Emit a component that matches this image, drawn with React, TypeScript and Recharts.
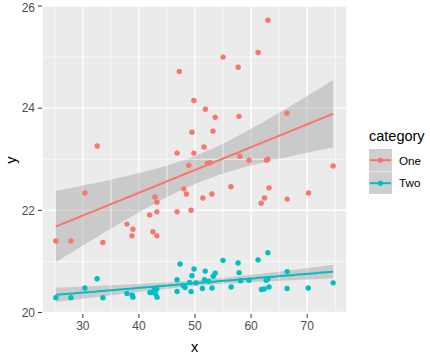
import React from "react";
import {
  ComposedChart,
  Scatter,
  Area,
  Line,
  XAxis,
  YAxis,
  CartesianGrid,
  ReferenceLine,
  Legend,
} from "recharts";

// values
const xOne = [
  25.18, 27.86, 30.36, 32.57, 33.57, 37.86, 38.75, 38.93, 41.9, 42.5, 42.86, 43.2, 43.2,
  43.2, 46.8, 46.8, 47.2, 48.0, 48.46, 48.9, 49.3, 49.46, 49.8, 49.8, 51.4, 51.6, 51.86,
  52.2, 52.7, 53.0, 53.2, 53.6, 55.0, 56.4, 57.7, 57.86, 58.0, 59.64, 61.25, 61.8, 62.4,
  62.75, 62.98, 63.0, 63.2, 66.4, 66.43, 70.25, 74.64,
];
const yOne = [
  21.4, 21.4, 22.34, 23.26, 21.37, 21.73, 21.5, 21.63, 21.91, 21.58, 22.26, 22.16, 21.97,
  21.5, 23.12, 21.97, 24.72, 22.42, 22.32, 22.88, 22.0, 23.53, 24.15, 23.12, 22.24, 23.24,
  23.98, 22.92, 22.93, 22.32, 23.55, 23.82, 25.0, 22.46, 24.8, 23.84, 23.06, 22.98, 25.09,
  22.14, 22.24, 22.98, 23.0, 25.72, 22.44, 23.9, 22.22, 22.34, 22.87,
];
const xTwo = [
  25.18, 27.86, 30.36, 32.54, 33.57, 37.86, 38.79, 38.93, 41.98, 42.27, 42.7, 42.93, 43.16,
  43.23, 46.8, 46.8, 47.34, 47.88, 48.23, 49.05, 49.3, 49.46, 49.82, 50.18, 51.32, 51.68,
  51.82, 52.45, 53.04, 53.25, 53.6, 55.0, 56.45, 57.68, 57.86, 58.11, 59.64, 61.25, 61.86,
  62.34, 62.7, 63.0, 63.0, 63.2, 66.43, 66.43, 70.2, 74.64,
];
const yTwo = [
  20.29, 20.29, 20.48, 20.66, 20.29, 20.37, 20.34, 20.3, 20.39, 20.39, 20.44, 20.37, 20.46,
  20.3, 20.64, 20.41, 20.95, 20.53, 20.49, 20.59, 20.41, 20.72, 20.85, 20.58, 20.47, 20.64,
  20.81, 20.61, 20.48, 20.71, 20.77, 21.02, 20.5, 20.97, 20.78, 20.62, 20.63, 21.03, 20.45,
  20.46, 20.63, 20.66, 21.17, 20.5, 20.8, 20.47, 20.48, 20.58,
];

const categories = ["One", "Two"];
const xTicks = [30, 40, 50, 60, 70];
const yTicks = [20, 22, 24, 26];
const xMinor = [25, 35, 45, 55, 65, 75];
const yMinor = [21, 23, 25];

const COLORS = ["#F8766D", "#00BFC4"];
const FONT = '"Liberation Sans", Arial, sans-serif';

const toPoints = (xs: number[], ys: number[]) => xs.map((x, i) => ({ x, y: ys[i] }));

// lm fit with 95% confidence band, like geom_smooth(method = "lm")
function lmBand(xs: number[], ys: number[]) {
  const n = xs.length;
  const mx = xs.reduce((a, b) => a + b, 0) / n;
  const my = ys.reduce((a, b) => a + b, 0) / n;
  let sxx = 0;
  let sxy = 0;
  for (let i = 0; i < n; i++) {
    sxx += (xs[i] - mx) ** 2;
    sxy += (xs[i] - mx) * (ys[i] - my);
  }
  const b = sxy / sxx;
  const a = my - b * mx;
  let sse = 0;
  for (let i = 0; i < n; i++) sse += (ys[i] - a - b * xs[i]) ** 2;
  const s = Math.sqrt(sse / (n - 2));
  const t = 2.01;
  const lo = Math.min(...xs);
  const hi = Math.max(...xs);
  const out: { x: number; fit: number; band: [number, number] }[] = [];
  for (let k = 0; k < 80; k++) {
    const x = lo + ((hi - lo) * k) / 79;
    const fit = a + b * x;
    const se = s * Math.sqrt(1 / n + (x - mx) ** 2 / sxx);
    out.push({ x, fit, band: [fit - t * se, fit + t * se] });
  }
  return out;
}

const pointsOne = toPoints(xOne, yOne);
const pointsTwo = toPoints(xTwo, yTwo);
const bandOne = lmBand(xOne, yOne);
const bandTwo = lmBand(xTwo, yTwo);

const dot = (color: string) => (p: any) => (
  <circle cx={p.cx} cy={p.cy} r={2.7} fill={color} />
);

const renderLegend = () => (
  <div style={{ fontFamily: FONT, color: "#000" }}>
    <div style={{ fontSize: 14.5, lineHeight: "18px", height: 18, marginBottom: 4 }}>
      category
    </div>
    {categories.map((c, i) => (
      <div key={c} style={{ display: "flex", alignItems: "center", height: 22.5 }}>
        <svg width={23} height={22.5} style={{ display: "block" }}>
          <rect x={0} y={0} width={23} height={22.5} fill="#CFCFCF" />
          <line x1={1} x2={22} y1={11.2} y2={11.2} stroke={COLORS[i]} strokeWidth={2} />
          <circle cx={11.5} cy={11.2} r={2.6} fill={COLORS[i]} />
        </svg>
        <span style={{ marginLeft: 7, fontSize: 11.7 }}>{c}</span>
      </div>
    ))}
  </div>
);

export default function App() {
  return (
    <div style={{ position: "absolute", left: 0, top: 0, width: 430, height: 359, background: "#fff" }}>
      <ComposedChart
        width={430}
        height={359}
        margin={{ top: 5, right: 83, bottom: 0, left: 0 }}
        style={{ fontFamily: FONT }}
      >
        <CartesianGrid fill="#EBEBEB" fillOpacity={1} stroke="#FFFFFF" strokeWidth={1.4} />
        {xMinor.map((v) => (
          <ReferenceLine key={"vx" + v} x={v} stroke="#FFFFFF" strokeWidth={0.7} />
        ))}
        {yMinor.map((v) => (
          <ReferenceLine key={"hy" + v} y={v} stroke="#FFFFFF" strokeWidth={0.7} />
        ))}
        <XAxis
          type="number"
          dataKey="x"
          domain={[22.71, 77.11]}
          allowDataOverflow
          ticks={xTicks}
          height={45}
          axisLine={false}
          tickSize={4}
          tickMargin={3}
          tickLine={{ stroke: "#333333" }}
          tick={{ fill: "#4D4D4D", fontSize: 12 }}
          label={{ value: "x", position: "insideBottom", offset: 7, fill: "#000", fontSize: 14.5 }}
        />
        <YAxis
          type="number"
          domain={[19.97, 26.02]}
          allowDataOverflow
          ticks={yTicks}
          width={42}
          axisLine={false}
          tickSize={4}
          tickMargin={3}
          tickLine={{ stroke: "#333333" }}
          tick={{ fill: "#4D4D4D", fontSize: 12 }}
          label={{
            content: () => (
              <text
                x={16}
                y={160}
                transform="rotate(-90 16 160)"
                textAnchor="middle"
                fill="#000"
                fontSize={14.5}
                fontFamily={FONT}
              >
                y
              </text>
            ),
          }}
        />
        <Scatter data={pointsOne} dataKey="y" shape={dot(COLORS[0])} isAnimationActive={false} legendType="none" />
        <Scatter data={pointsTwo} dataKey="y" shape={dot(COLORS[1])} isAnimationActive={false} legendType="none" />
        <Area
          data={bandOne}
          dataKey="band"
          type="linear"
          stroke="none"
          fill="#999999"
          fillOpacity={0.4}
          isAnimationActive={false}
          legendType="none"
        />
        <Line data={bandOne} dataKey="fit" stroke={COLORS[0]} strokeWidth={2} dot={false} isAnimationActive={false} />
        <Area
          data={bandTwo}
          dataKey="band"
          type="linear"
          stroke="none"
          fill="#999999"
          fillOpacity={0.4}
          isAnimationActive={false}
          legendType="none"
        />
        <Line data={bandTwo} dataKey="fit" stroke={COLORS[1]} strokeWidth={2} dot={false} isAnimationActive={false} />
        <Legend
          layout="vertical"
          align="center"
          verticalAlign="middle"
          content={renderLegend}
          wrapperStyle={{ left: 369, top: 127, width: 61 }}
        />
      </ComposedChart>
    </div>
  );
}
